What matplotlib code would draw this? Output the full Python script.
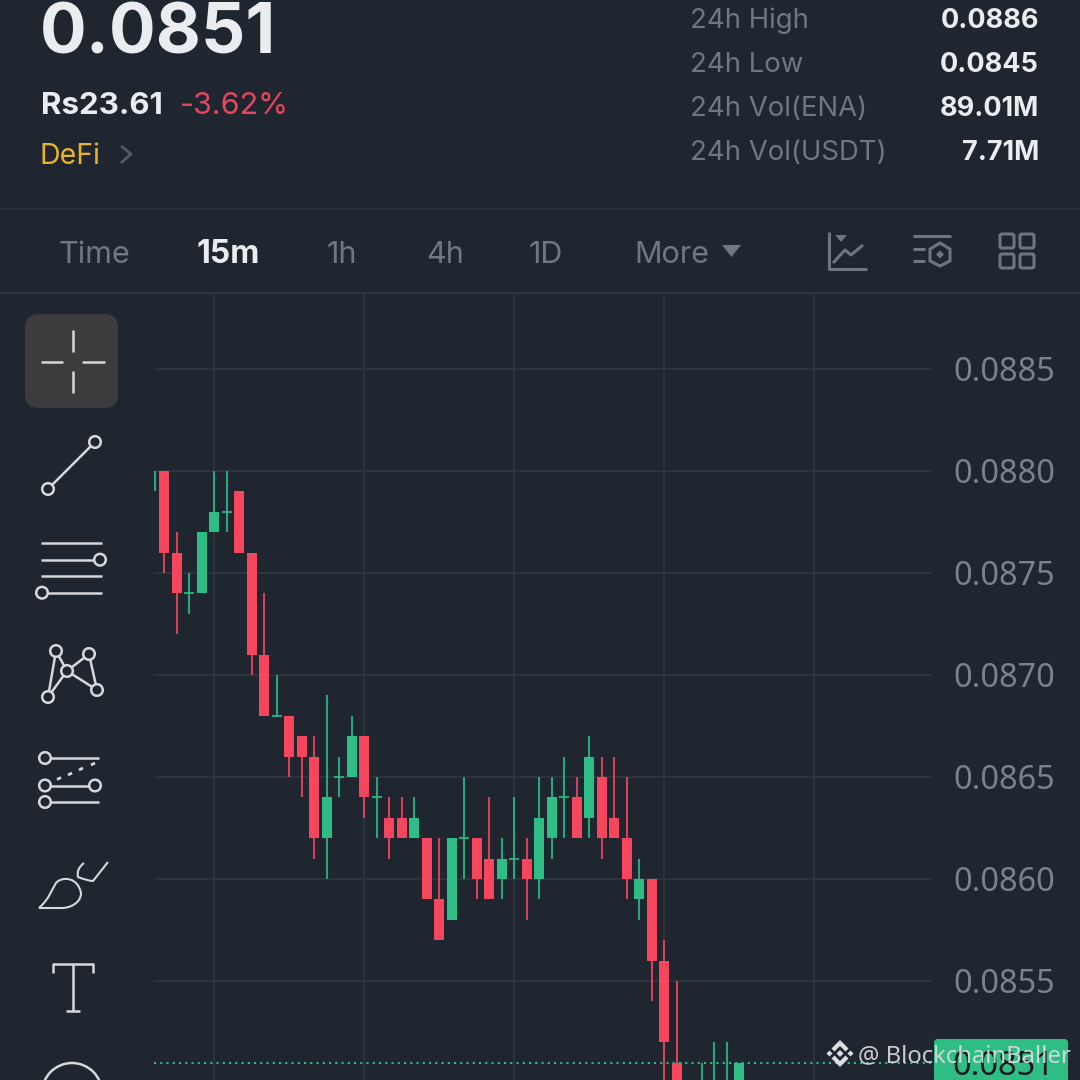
import matplotlib
matplotlib.use('Agg')
import matplotlib.pyplot as plt
from matplotlib.patches import Circle, FancyBboxPatch, PathPatch, Polygon
from matplotlib.path import Path
from matplotlib.transforms import ScaledTranslation

# Candle data, positions count from the first candle
candle_x = [0.28] + list(range(1, 43)) + [44, 45, 46, 47]
opens = [.0879, .0880, .0876, .0874, .0874, .0877, .0878, .0879, .0876, .0871, .0868,
         .0868, .0867, .0866, .0862, .0865, .0865, .0867, .0864, .0863, .0863, .0862,
         .0862, .0859, .0858, .0862, .0862, .0861, .0860, .0861, .0861, .0860, .0862,
         .0864, .0864, .0863, .0865, .0863, .0862, .0859, .0860, .0856, .0851,
         .0849, .0849, .0849, .0849]
closes = [.0880, .0876, .0874, .0874, .0877, .0878, .0878, .0876, .0871, .0868, .0868,
          .0866, .0866, .0862, .0864, .0865, .0867, .0864, .0864, .0862, .0862, .0863,
          .0859, .0857, .0862, .0862, .0860, .0859, .0861, .0861, .0860, .0863, .0864,
          .0864, .0862, .0866, .0862, .0862, .0860, .0860, .0856, .0852, .0849,
          .0850, .0850, .0850, .0851]
highs = [.0880, .0880, .0877, .0875, .0877, .0880, .0880, .0879, .0876, .0874, .0870,
         .0868, .0867, .0867, .0869, .0866, .0868, .0867, .0865, .0864, .0864, .0864,
         .0862, .0862, .0862, .0865, .0862, .0864, .0862, .0864, .0862, .0865, .0865,
         .0866, .0865, .0867, .0866, .0866, .0865, .0861, .0860, .0857, .0855,
         .0851, .0852, .0852, .0851]
lows = [.0879, .0875, .0872, .0873, .0874, .0877, .0877, .0876, .0870, .0868, .0868,
        .0865, .0864, .0861, .0860, .0864, .0865, .0863, .0862, .0861, .0862, .0862,
        .0859, .0857, .0858, .0860, .0859, .0859, .0859, .0860, .0858, .0859, .0861,
        .0862, .0862, .0862, .0861, .0862, .0859, .0858, .0854, .0850, .0849,
        .0849, .0849, .0849, .0849]
last_price = 0.0851
price_ticks = [0.0885, 0.0880, 0.0875, 0.0870, 0.0865, 0.0860, 0.0855]
time_grid = [5, 17, 29, 41, 53]

stat_names = ['24h High', '24h Low', '24h Vol(ENA)', '24h Vol(USDT)']
stat_values = ['0.0886', '0.0845', '89.01M', '7.71M']
tab_names = ['Time', '15m', '1h', '4h', '1D', 'More']

BG = '#1f2630'
GRID = '#2d333d'
RED = '#f6465d'
GREEN = '#2ebd85'
WHITE = '#eaecef'
GREY = '#7c828d'
ICON = '#d6d7da'
ICON2 = '#6e7480'

plt.rcParams['font.family'] = ['Inter', 'DejaVu Sans']

fig = plt.figure(figsize=(10.8, 10.8), dpi=100, facecolor=BG)

# Chart panel, x 154-932 and y 294-1080 in pixels
ax = fig.add_axes([154/1080, 0, (932-154)/1080, (1080-294)/1080], facecolor=BG)
ax.set_xlim(0.2, 62.44)
ax.set_ylim(0.085015, 0.088868)
for s in ax.spines.values():
    s.set_visible(False)
ax.set_yticks(price_ticks)
ax.set_yticklabels([f'{p:.4f}' for p in price_ticks], family='Noto Sans', fontsize=23.4, color=GREY)
ax.yaxis.tick_right()
ax.tick_params(axis='y', length=0, pad=15.5)
ax.set_xticks(time_grid)
ax.tick_params(axis='x', length=0, labelbottom=False)
ax.grid(True, color=GRID, linewidth=1.5)
ax.set_axisbelow(True)

# labels sit one pixel higher than the default centring
up = ScaledTranslation(0, 1/100, fig.dpi_scale_trans)
for lab in ax.get_yticklabels():
    lab.set_transform(lab.get_transform() + up)

for i, (x, o, c, h, l) in enumerate(zip(candle_x, opens, closes, highs, lows)):
    col = RED if c < o else GREEN
    ax.vlines(x, l, h, color=col, linewidth=1.5, alpha=0.85, zorder=3)
    # the first candle sits at the panel edge, only its wick shows
    if i == 0:
        continue
    if o == c:
        ax.hlines(o, x-0.4, x+0.4, color=col, linewidth=1.5, alpha=0.85, zorder=3)
    else:
        ax.bar(x, abs(c-o), bottom=min(o, c), width=0.8, color=col, zorder=4)

ax.axhline(last_price, color=GREEN, linewidth=1.5, linestyle=(0, (1, 2)), zorder=2)

# Everything around the chart is drawn in pixel coordinates
ui = fig.add_axes([0, 0, 1, 1], facecolor='none', zorder=5)
ui.set_xlim(0, 1080)
ui.set_ylim(1080, 0)
ui.axis('off')


def line(pts, color=ICON, lw=1.8, **kw):
    xs = [p[0] for p in pts]
    ys = [p[1] for p in pts]
    ui.plot(xs, ys, color=color, linewidth=lw, solid_capstyle='butt', **kw)


def ring(x, y, r=5.8, color=ICON, lw=1.8):
    ui.add_patch(Circle((x, y), r, facecolor=BG, edgecolor=color, linewidth=lw, zorder=4))


def rbox(x0, y0, x1, y1, rad, **kw):
    ui.add_patch(FancyBboxPatch((x0+rad, y0+rad), x1-x0-2*rad, y1-y0-2*rad,
                                boxstyle=f'round,pad={rad},rounding_size={rad}', **kw))


# Header
ui.text(40, 54, '0.0851', fontsize=50, fontweight='bold', color=WHITE, va='baseline')
ui.text(41, 114, 'Rs23.61', fontsize=22.5, fontweight='bold', color=WHITE, va='baseline')
ui.text(180, 114, '-3.62%', fontsize=22, color='#e9455c', va='baseline')
ui.text(40, 164, 'DeFi', fontsize=20.5, color='#e8b42a', va='baseline')
line([(121, 146), (131, 154), (121, 163)], color='#555b66', lw=2)

for k, (name, val) in enumerate(zip(stat_names, stat_values)):
    y = 28 + 44*k
    ui.text(690, y, name, fontsize=19.8, color='#6f7783', va='baseline')
    ui.text(1039, y, val, fontsize=19.5, fontweight='bold', color=WHITE, va='baseline', ha='right')

ui.plot([0, 1080], [209, 209], color=GRID, linewidth=1.2)
ui.plot([0, 1080], [293, 293], color=GRID, linewidth=1.5)

# Tabs
tab_x = [58, 197, 327, 426, 529, 634]
for name, x in zip(tab_names, tab_x):
    active = name == '15m'
    ui.text(x, 263, name, fontsize=23 if active else 22, color=WHITE if active else '#6f7783',
            fontweight='bold' if active else 'normal', va='baseline')
ui.add_patch(Polygon([(722, 245), (741, 245), (731.5, 257)], facecolor='#6f7783', edgecolor='none'))

# Icons in the tab bar
line([(829, 232), (829, 269), (867, 269)], color=ICON2, lw=2.2)
ui.add_patch(Polygon([(835, 235), (847, 235), (841, 242)], facecolor=ICON2, edgecolor='none'))
line([(833, 263), (845, 250), (851, 255), (863, 245)], color=ICON2, lw=2.2)
line([(913, 235.5), (951, 235.5)], color=ICON2, lw=2.2)
line([(913, 249), (925, 249)], color=ICON2, lw=2.2)
line([(913, 261), (925, 261)], color=ICON2, lw=2.2)
ui.add_patch(Polygon([(940, 243), (950, 249), (950, 261), (940, 266), (930, 261), (930, 249)],
                     facecolor='none', edgecolor=ICON2, linewidth=2.2))
ui.add_patch(Polygon([(940, 250.5), (944, 254.5), (940, 258.5), (936, 254.5)], facecolor=ICON2, edgecolor='none'))
for gx in [1000, 1020]:
    for gy in [234, 254]:
        rbox(gx, gy, gx+14, gy+14, 2, facecolor='none', edgecolor=ICON2, linewidth=2.2)

# Toolbar on the left
rbox(25, 314, 118, 408, 14, facecolor='#3c3c3e', edgecolor='none')
line([(72.7, 330), (72.7, 352)])
line([(72.7, 371), (72.7, 393)])
line([(41, 361.7), (63, 361.7)])
line([(82, 361.7), (105, 361.7)])

line([(48, 489), (95, 442)])
ring(95, 442)
ring(48, 489)

line([(41, 543), (102, 543)])
line([(41, 559.7), (100, 559.7)])
line([(41, 576), (102, 576)])
line([(42, 592.7), (102, 592.7)])
ring(100, 559.7)
ring(42, 592.7)

line([(56, 651), (48, 697)])
line([(56, 651), (67, 671)])
line([(89, 654), (67, 671)])
line([(89, 654), (97, 690)])
line([(67, 671), (48, 697)])
line([(67, 671), (97, 690)])
for p in [(56, 651), (89, 654), (67, 671), (48, 697), (97, 690)]:
    ring(p[0], p[1])

line([(45, 758), (99, 758)])
line([(45, 785.5), (95, 785.5)])
line([(45, 802), (99, 802)])
for dx, dy in [(59, 778.5), (70, 774), (81, 769), (93, 764)]:
    line([(dx-2, dy+1), (dx+2, dy-1)], lw=2)
ring(45, 758)
ring(45, 785.5)
ring(95, 785.5)
ring(45, 802)

brush = Path([(39, 908), (50, 898), (52, 889), (56, 883), (62, 876), (78, 877), (81, 893),
              (81, 903), (70, 908), (62, 908), (39, 908)],
             [Path.MOVETO, Path.CURVE4, Path.CURVE4, Path.CURVE4, Path.CURVE4, Path.CURVE4, Path.CURVE4,
              Path.CURVE4, Path.CURVE4, Path.CURVE4, Path.LINETO])
ui.add_patch(PathPatch(brush, facecolor='none', edgecolor=ICON, linewidth=1.5))
handle = Path([(84, 863), (76, 869), (78, 877), (88, 881), (93, 881), (108, 862)],
              [Path.MOVETO, Path.CURVE3, Path.CURVE3, Path.CURVE3, Path.LINETO, Path.LINETO])
ui.add_patch(PathPatch(handle, facecolor='none', edgecolor=ICON, linewidth=1.5))

line([(53, 973), (53, 964), (93, 964), (93, 973)])
line([(72.5, 964), (72.5, 1011)])
line([(66, 1011), (80, 1011)])

ui.add_patch(Circle((72, 1093), 30, facecolor='none', edgecolor=ICON, linewidth=1.8))

# Last price tag
rbox(934, 1039, 1068, 1100, 4, facecolor=GREEN, edgecolor='none')
ui.text(1003, 1075, f'{last_price:.4f}', family='Noto Sans', fontsize=23.4, color='#14181e', ha='center', va='baseline')

# Watermark
wm = '#dcdde0'
for sign in [1, -1]:
    ui.add_patch(Polygon([(840, 1053.5-13.5*sign), (848.5, 1053.5-5*sign), (845.5, 1053.5-2*sign),
                          (840, 1053.5-7.5*sign), (834.5, 1053.5-2*sign), (831.5, 1053.5-5*sign)],
                         facecolor=wm, edgecolor='none'))
for cx, r in [(829.5, 3), (840, 3.5), (850.5, 3)]:
    ui.add_patch(Polygon([(cx, 1053.5-r), (cx+r, 1053.5), (cx, 1053.5+r), (cx-r, 1053.5)], facecolor=wm, edgecolor='none'))
ui.text(858, 1062, '@ BlockchainBaller', family='Noto Sans', fontsize=17.2, color=wm, alpha=0.9, va='baseline')

fig.savefig('out.png', dpi=100, facecolor=BG)
